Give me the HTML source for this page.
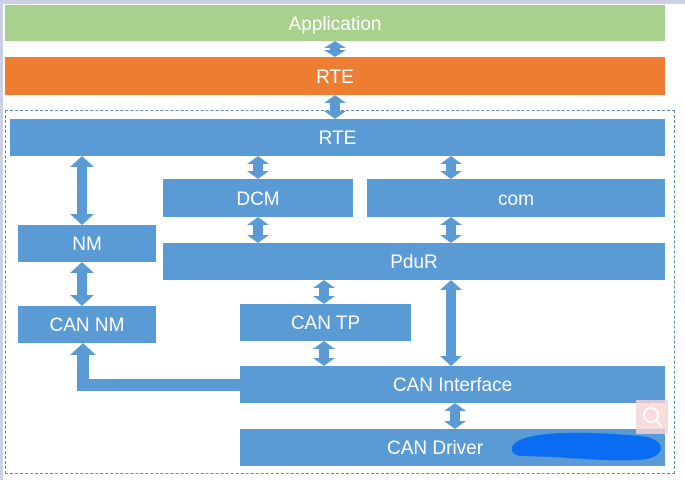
<!DOCTYPE html>
<html><head><style>
html,body{margin:0;padding:0;}
body{width:685px;height:480px;position:relative;overflow:hidden;background:#fff;font-family:"Liberation Sans",sans-serif;}
.b{position:absolute;background:#5b9bd5;color:#fff;font-size:19px;display:flex;align-items:center;justify-content:center;padding-top:3px;box-sizing:border-box;}
</style></head><body>
<div style="position:absolute;left:0;top:0;width:685px;height:4px;background:#c9d1e3"></div>
<div style="position:absolute;left:0;top:0;width:3px;height:480px;background:#c9d1e3"></div>
<div style="position:absolute;left:5px;top:110px;width:668px;height:362px;border:1px dashed #5b8fc0;"></div>
<div class="b" style="left:5px;top:5px;width:660px;height:36px;background:#a9d18e">Application</div>
<div class="b" style="left:5px;top:57px;width:660px;height:38px;background:#ed7d31">RTE</div>
<div class="b" style="left:10px;top:119px;width:655px;height:37px">RTE</div>
<div class="b" style="left:163px;top:179px;width:190px;height:38px">DCM</div>
<div class="b" style="left:367px;top:179px;width:298px;height:38px">com</div>
<div class="b" style="left:18px;top:225px;width:138px;height:37px">NM</div>
<div class="b" style="left:163px;top:243px;width:502px;height:37px">PduR</div>
<div class="b" style="left:18px;top:306px;width:138px;height:37px">CAN NM</div>
<div class="b" style="left:240px;top:304px;width:171px;height:37px">CAN TP</div>
<div class="b" style="left:240px;top:366px;width:425px;height:37px">CAN Interface</div>
<div class="b" style="left:240px;top:429px;width:425px;height:37px;justify-content:flex-start;padding-left:147px">CAN Driver</div>
<svg style="position:absolute;left:0;top:0" width="685" height="480">
<g fill="#5b9bd5">
<polygon points="335,41 346,48 340,48 340,50 346,50 335,57 324,50 330,50 330,48 324,48"/>
<polygon points="335,95 346,103 340,103 340,111 346,111 335,119 324,111 330,111 330,103 324,103"/>
<polygon points="82,156 94,167 87,167 87,214 94,214 82,225 70,214 77,214 77,167 70,167"/>
<polygon points="258,156 269,164 263,164 263,171 269,171 258,179 247,171 253,171 253,164 247,164"/>
<polygon points="451,156 462,164 456,164 456,171 462,171 451,179 440,171 446,171 446,164 440,164"/>
<polygon points="258,217 269,225 263,225 263,235 269,235 258,243 247,235 253,235 253,225 247,225"/>
<polygon points="451,217 462,225 456,225 456,235 462,235 451,243 440,235 446,235 446,225 440,225"/>
<polygon points="82,262 94,273 87,273 87,295 94,295 82,306 70,295 77,295 77,273 70,273"/>
<polygon points="324,280 335,288 329,288 329,296 335,296 324,304 313,296 319,296 319,288 313,288"/>
<polygon points="324,341 335,349 329,349 329,358 335,358 324,366 313,358 319,358 319,349 313,349"/>
<polygon points="451,280 462,290 456,290 456,356 462,356 451,366 440,356 446,356 446,290 440,290"/>
<polygon points="455,403 466,411 460,411 460,421 466,421 455,429 444,421 450,421 450,411 444,411"/>
<polygon points="83,343 96,355 89,355 89,379 240,379 240,391 77,391 77,355 70,355"/>
</g>
<path d="M520,440 C540,430 600,432 640,436 C668,438 668,458 640,460 C600,462 560,456 520,456 C508,454 510,444 520,440Z" fill="#0a6cf0"/>
<rect x="636" y="400" width="32" height="34" fill="#f7d5d3" opacity="0.8"/>
<circle cx="651" cy="415" r="7" fill="none" stroke="#fff" stroke-width="2"/>
<line x1="656" y1="420" x2="662" y2="427" stroke="#fff" stroke-width="2"/>
</svg>
</body></html>
